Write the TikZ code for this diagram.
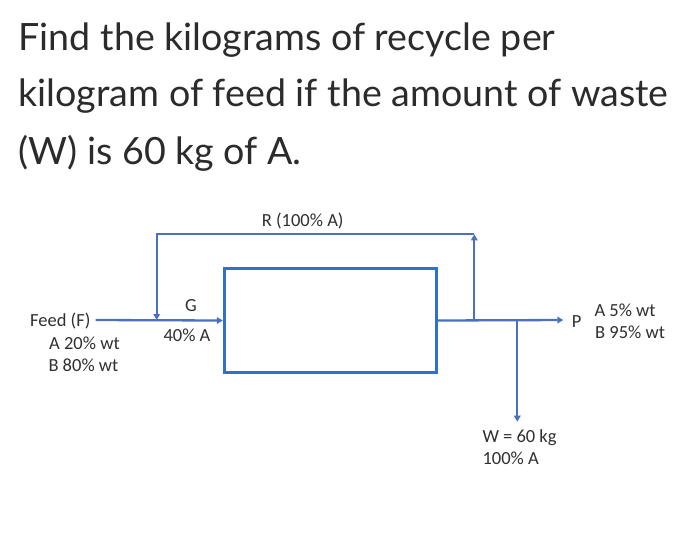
\documentclass[tikz,border=0pt]{standalone}
\usepackage{fontspec}
\setmainfont{Carlito}
\newfontfamily\titlefont{Lato}
\usetikzlibrary{arrows.meta}
\definecolor{lineblue}{HTML}{4A70C2}
\definecolor{boxblue}{HTML}{2F73C8}
\definecolor{txtgray}{HTML}{303030}
\definecolor{titlegray}{HTML}{2B2B2B}
\begin{document}
\begin{tikzpicture}[x=1pt,y=-1pt,
  flow/.style={draw=lineblue, line width=2.3pt},
  arr/.style={-{Triangle[length=6pt,width=6.5pt]}},
  lbl/.style={font=\fontsize{18.5}{22}\selectfont, text=txtgray, inner sep=0pt, anchor=base west},
  ttl/.style={font=\titlefont\fontsize{37.6}{44}\selectfont, text=titlegray, inner sep=0pt, anchor=base west},
  procbox/.style={draw=boxblue, line width=3pt, fill=white, minimum width=212.4pt, minimum height=104.4pt, inner sep=0pt}]
\useasboundingbox (0,0) rectangle (700,539);
\fill[white] (0,0) rectangle (700,539);
% title
\node[ttl] (t1) at (18.5,50.7) {Find the kilograms of recycle per};
\node[ttl] (t2) at (18.5,106.7) {kilogram of feed if the amount of waste};
\node[ttl] (t3) at (18.5,164) {(W) is 60 kg of A.};
% process box
\node[procbox] (proc) at (330.5,320.5) {};
% coordinates
\coordinate (fs) at (95.7,320);
\coordinate (mix) at (156.7,320);
\coordinate (rtl) at (156.7,234.3);
\coordinate (sp1) at (474.3,320);
\coordinate (rtr) at (474.3,234.3);
\coordinate (sp2) at (517.3,320);
\coordinate (pe) at (563.3,320);
\coordinate (we) at (517.3,421.7);
% connectors
\draw[flow,arr] (fs) -- (proc.west);
\draw[flow,arr] (proc.east) -- (pe);
\draw[flow,arr] (sp1) -- (rtr);
\draw[flow,arr] (rtr) -- (rtl) -- (mix);
\draw[flow,arr] (sp2) -- (we);
% labels
\node[lbl] (r) at (261.7,226) {R (100\% A)};
\node[lbl] (feed) at (30,326.7) {Feed (F)};
\node[lbl] (fa) at (49,349.3) {A 20\% wt};
\node[lbl] (fb) at (48.3,371.7) {B 80\% wt};
\node[lbl] (g) at (185,311.7) {G};
\node[lbl] (ga) at (163.3,341.7) {40\% A};
\node[lbl] (p) at (571.7,327.3) {P};
\node[lbl] (pa) at (594.3,316) {A 5\% wt};
\node[lbl] (pb) at (595,338.3) {B 95\% wt};
\node[lbl] (w) at (482.3,442.7) {W = 60 kg};
\node[lbl] (wa) at (482.3,464.3) {100\% A};
\end{tikzpicture}
\end{document}
